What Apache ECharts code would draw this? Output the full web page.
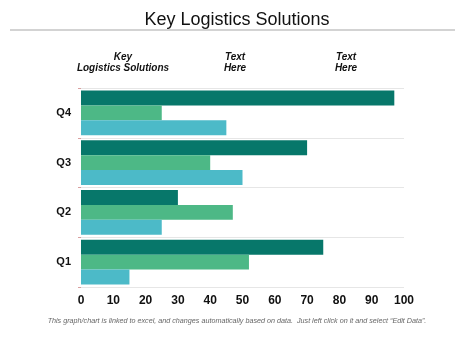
<!DOCTYPE html>
<html>
<head>
<meta charset="utf-8">
<script src="https://cdn.jsdelivr.net/npm/echarts@6/dist/echarts.min.js"></script>
<style>html,body{margin:0;padding:0;background:#fff}#c{width:474px;height:355px}</style>
</head>
<body>
<div id="c"></div>
<script>
const categories = ['Q1', 'Q2', 'Q3', 'Q4'];
const seriesBlue = [15, 25, 50, 45];
const seriesGreen = [52, 47, 40, 25];
const seriesDark = [75, 30, 70, 97];
const xTicks = [0, 10, 20, 30, 40, 50, 60, 70, 80, 90, 100];
const headers = ['Key\nLogistics Solutions', 'Text\nHere', 'Text\nHere'];

const chart = echarts.init(document.getElementById('c'), null, {renderer: 'canvas'});
const font = 'Liberation Sans, Arial, sans-serif';
chart.setOption({
  animation: false,
  backgroundColor: '#fff',
  title: {
    text: 'Key Logistics Solutions', left: 'center', top: 6,
    textStyle: {fontFamily: font, fontSize: 18, fontWeight: 'normal', color: '#111'}
  },
  grid: {left: 81, right: 70, top: 88, bottom: 68},
  xAxis: {
    type: 'value', min: xTicks[0], max: xTicks[xTicks.length - 1], interval: 10,
    axisLine: {show: false}, axisTick: {show: false}, splitLine: {show: false},
    axisLabel: {fontFamily: font, fontSize: 12, fontWeight: 'bold', color: '#111', margin: 8}
  },
  yAxis: {
    type: 'category', data: categories,
    axisLine: {show: false},
    axisTick: {show: true, length: 3, lineStyle: {color: '#d9a0a0'}},
    splitLine: {show: true, lineStyle: {color: '#e6e6e6', width: 1}},
    axisLabel: {fontFamily: font, fontSize: 11, fontWeight: 'bold', color: '#111', margin: 10}
  },
  series: [
    {type: 'bar', data: seriesDark, itemStyle: {color: '#07776a'}, barGap: '0%', barCategoryGap: '10%'},
    {type: 'bar', data: seriesGreen, itemStyle: {color: '#4db886'}, barGap: '0%', barCategoryGap: '10%'},
    {type: 'bar', data: seriesBlue, itemStyle: {color: '#4cbac8'}, barGap: '0%', barCategoryGap: '10%'}
  ],
  graphic: [
    {type: 'rect', shape: {x: 10, y: 29, width: 445, height: 2}, style: {fill: '#d3d3d3'}},
    {type: 'text', x: 123, y: 52, style: {text: headers[0], align: 'center', font: 'italic bold 10px ' + font, fill: '#111', lineHeight: 11}},
    {type: 'text', x: 235, y: 52, style: {text: headers[1], align: 'center', font: 'italic bold 10px ' + font, fill: '#111', lineHeight: 11}},
    {type: 'text', x: 346, y: 52, style: {text: headers[2], align: 'center', font: 'italic bold 10px ' + font, fill: '#111', lineHeight: 11}},
    {type: 'text', x: 237, y: 317, style: {text: 'This graph/chart is linked to excel, and changes automatically based on data.  Just left click on it and select \u201cEdit Data\u201d.', align: 'center', font: 'italic 7.2px ' + font, fill: '#666'}}
  ]
});
</script>
</body>
</html>
